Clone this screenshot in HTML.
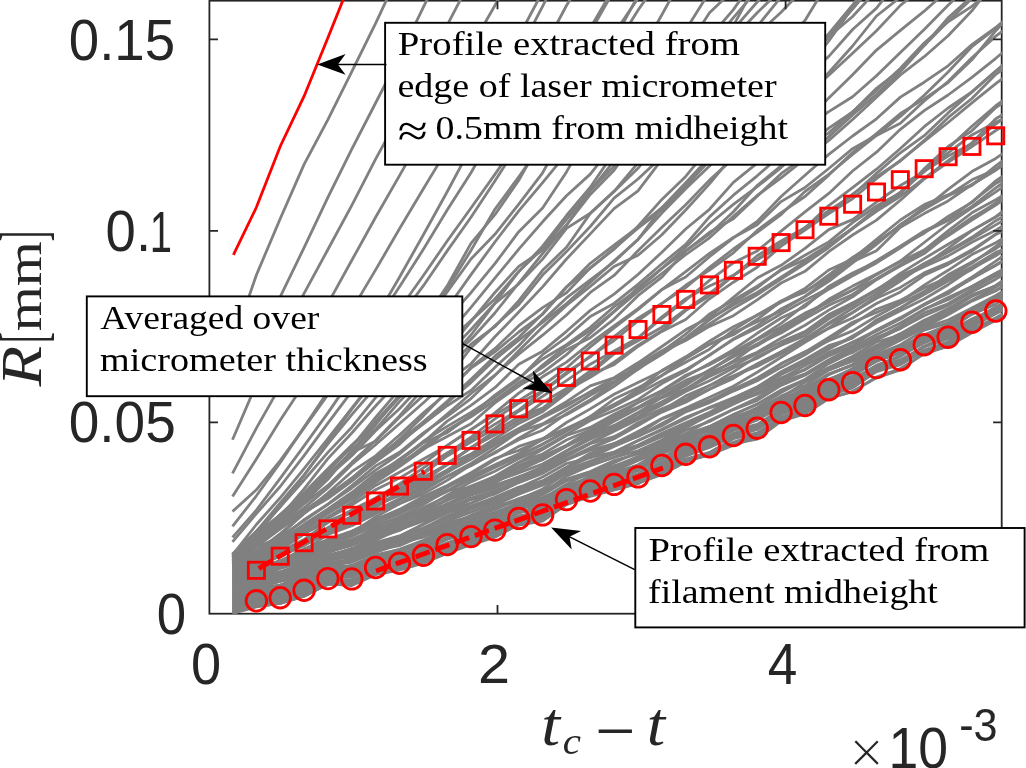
<!DOCTYPE html>
<html><head><meta charset="utf-8"><title>R vs tc-t</title>
<style>
html,body{margin:0;padding:0;background:#fff;width:1026px;height:768px;overflow:hidden}
svg{display:block}
.tk{font-family:"Liberation Sans",Arial,sans-serif;font-size:56px;fill:#262626}
.tx{font-family:"Liberation Serif","Times New Roman",serif;font-size:34px;fill:#000}
</style></head>
<body>
<svg width="1026" height="768" viewBox="0 0 1026 768">
<defs><clipPath id="ax"><rect x="208.5" y="-0.2" width="794.1" height="614.8"/></clipPath></defs>
<rect width="1026" height="768" fill="#fff"/>
<!-- axes box -->
<rect x="209.4" y="0.7" width="792.3" height="613" fill="none" stroke="#262626" stroke-width="1.8"/>
<!-- gray profiles -->
<g clip-path="url(#ax)" fill="none" stroke="#808080" stroke-width="2.8" stroke-linejoin="round">
<path d="M232.5 344.0 L256.4 275.0 L280.2 218.7 L304.1 164.4 L327.9 119.7 L351.8 71.7 L375.6 23.4 L399.5 -27.7"/>
<path d="M232.5 389.0 L256.4 343.9 L280.2 296.8 L304.1 247.6 L327.9 197.3 L351.8 149.1 L375.6 103.0 L399.5 56.3 L423.4 7.1 L447.2 -40.7"/>
<path d="M232.5 439.8 L256.4 384.1 L280.2 339.5 L304.1 293.4 L327.9 249.5 L351.8 205.4 L375.6 159.2 L399.5 115.3 L423.4 69.8 L447.2 25.1 L471.0 -20.5"/>
<path d="M232.5 473.4 L256.4 428.1 L280.2 386.1 L304.1 344.8 L327.9 303.6 L351.8 260.3 L375.6 217.3 L399.5 175.6 L423.4 133.5 L447.2 91.3 L471.0 47.3 L494.9 5.5 L518.8 -38.0"/>
<path d="M232.5 496.4 L256.4 458.9 L280.2 420.3 L304.1 383.9 L327.9 345.6 L351.8 309.9 L375.6 269.9 L399.5 228.8 L423.4 188.8 L447.2 149.4 L471.0 109.1 L494.9 73.1 L518.8 36.5 L542.6 -8.3"/>
<path d="M232.5 511.5 L256.4 489.8 L280.2 460.6 L304.1 427.9 L327.9 394.7 L351.8 356.3 L375.6 318.2 L399.5 277.2 L423.4 234.7 L447.2 191.7 L471.0 147.2 L494.9 100.4 L518.8 51.8 L542.6 6.4 L566.5 -41.4"/>
<path d="M232.5 526.4 L256.4 495.8 L280.2 462.7 L304.1 427.1 L327.9 391.6 L351.8 358.4 L375.6 322.8 L399.5 286.8 L423.4 249.3 L447.2 210.1 L471.0 172.7 L494.9 130.7 L518.8 89.3 L542.6 50.3 L566.5 5.5 L590.3 -33.6"/>
<path d="M232.5 537.4 L256.4 510.1 L280.2 478.4 L304.1 445.8 L327.9 412.9 L351.8 378.1 L375.6 343.0 L399.5 309.2 L423.4 275.5 L447.2 241.0 L471.0 208.0 L494.9 174.4 L518.8 139.8 L542.6 101.8 L566.5 65.4 L590.3 28.0 L614.1 -12.8"/>
<path d="M232.5 541.8 L256.4 513.6 L280.2 486.5 L304.1 455.7 L327.9 423.2 L351.8 391.3 L375.6 353.5 L399.5 317.9 L423.4 285.7 L447.2 250.9 L471.0 217.2 L494.9 181.1 L518.8 143.7 L542.6 108.7 L566.5 70.6 L590.3 32.0 L614.1 -9.7"/>
<path d="M232.5 554.0 L256.4 531.4 L280.2 502.9 L304.1 474.8 L327.9 443.9 L351.8 414.7 L375.6 387.0 L399.5 355.0 L423.4 323.9 L447.2 291.8 L471.0 259.0 L494.9 234.3 L518.8 204.1 L542.6 172.8 L566.5 130.1 L590.3 84.3 L614.1 48.5 L638.0 10.2 L661.9 -24.0"/>
<path d="M232.5 554.8 L256.4 524.5 L280.2 497.8 L304.1 468.7 L327.9 438.6 L351.8 408.1 L375.6 377.8 L399.5 353.3 L423.4 320.6 L447.2 289.1 L471.0 250.4 L494.9 209.3 L518.8 176.8 L542.6 143.1 L566.5 108.4 L590.3 74.1 L614.1 39.8 L638.0 -4.2"/>
<path d="M232.5 554.9 L256.4 534.6 L280.2 506.7 L304.1 475.5 L327.9 442.0 L351.8 409.2 L375.6 378.5 L399.5 349.4 L423.4 321.2 L447.2 285.9 L471.0 243.4 L494.9 214.7 L518.8 180.3 L542.6 137.9 L566.5 101.8 L590.3 64.4 L614.1 33.5 L638.0 -1.7 L661.9 -31.5"/>
<path d="M232.5 555.7 L256.4 531.3 L280.2 506.9 L304.1 480.0 L327.9 452.4 L351.8 427.2 L375.6 397.6 L399.5 365.9 L423.4 338.6 L447.2 308.3 L471.0 274.6 L494.9 242.0 L518.8 210.8 L542.6 182.7 L566.5 153.6 L590.3 120.0 L614.1 87.4 L638.0 56.7 L661.9 14.8 L685.7 -28.7"/>
<path d="M232.5 556.6 L256.4 536.4 L280.2 517.0 L304.1 488.9 L327.9 458.6 L351.8 433.0 L375.6 406.0 L399.5 380.3 L423.4 348.3 L447.2 319.0 L471.0 292.7 L494.9 263.7 L518.8 231.7 L542.6 208.1 L566.5 171.9 L590.3 130.3 L614.1 106.4 L638.0 75.8 L661.9 48.6 L685.7 30.1 L709.5 -8.1"/>
<path d="M232.5 556.8 L256.4 539.5 L280.2 517.6 L304.1 495.9 L327.9 471.5 L351.8 447.0 L375.6 417.5 L399.5 389.4 L423.4 360.9 L447.2 335.2 L471.0 307.3 L494.9 278.2 L518.8 249.2 L542.6 221.8 L566.5 195.8 L590.3 174.1 L614.1 143.9 L638.0 108.5 L661.9 86.6 L685.7 49.7 L709.5 12.8 L733.4 -10.0"/>
<path d="M232.5 557.3 L256.4 533.7 L280.2 514.8 L304.1 495.0 L327.9 474.5 L351.8 452.6 L375.6 425.0 L399.5 394.9 L423.4 369.7 L447.2 342.0 L471.0 320.6 L494.9 299.0 L518.8 271.5 L542.6 248.4 L566.5 219.5 L590.3 190.7 L614.1 160.8 L638.0 127.5 L661.9 106.3 L685.7 78.7 L709.5 47.1 L733.4 17.7 L757.2 -9.9"/>
<path d="M232.5 558.0 L256.4 539.0 L280.2 514.5 L304.1 492.7 L327.9 468.7 L351.8 445.0 L375.6 423.2 L399.5 397.2 L423.4 376.5 L447.2 354.3 L471.0 329.5 L494.9 303.2 L518.8 271.4 L542.6 246.2 L566.5 215.5 L590.3 187.2 L614.1 152.4 L638.0 123.4 L661.9 99.1 L685.7 62.3 L709.5 37.5 L733.4 9.6 L757.2 -24.0"/>
<path d="M232.5 558.4 L256.4 542.3 L280.2 523.3 L304.1 502.8 L327.9 478.7 L351.8 451.5 L375.6 421.5 L399.5 395.4 L423.4 370.8 L447.2 350.0 L471.0 321.5 L494.9 292.5 L518.8 266.4 L542.6 250.2 L566.5 225.0 L590.3 194.4 L614.1 170.3 L638.0 135.9 L661.9 111.5 L685.7 82.5 L709.5 51.2 L733.4 25.7 L757.2 -18.1"/>
<path d="M232.5 558.8 L256.4 539.7 L280.2 518.0 L304.1 498.0 L327.9 475.1 L351.8 452.5 L375.6 441.3 L399.5 417.3 L423.4 395.4 L447.2 378.9 L471.0 347.7 L494.9 325.9 L518.8 304.6 L542.6 275.1 L566.5 251.6 L590.3 226.5 L614.1 198.2 L638.0 179.0 L661.9 156.7 L685.7 126.1 L709.5 97.6 L733.4 66.0 L757.2 34.2 L781.1 12.3 L805.0 -12.8"/>
<path d="M232.5 560.4 L256.4 542.2 L280.2 523.7 L304.1 503.9 L327.9 485.4 L351.8 462.4 L375.6 440.5 L399.5 415.9 L423.4 388.3 L447.2 369.2 L471.0 344.2 L494.9 326.7 L518.8 300.7 L542.6 270.3 L566.5 247.2 L590.3 213.4 L614.1 191.4 L638.0 168.3 L661.9 137.6 L685.7 110.9 L709.5 84.0 L733.4 56.9 L757.2 26.4 L781.1 -3.1 L805.0 -32.5"/>
<path d="M232.5 560.5 L256.4 540.8 L280.2 519.4 L304.1 501.2 L327.9 479.3 L351.8 450.4 L375.6 429.3 L399.5 401.6 L423.4 376.8 L447.2 360.7 L471.0 339.5 L494.9 313.0 L518.8 283.0 L542.6 253.5 L566.5 225.3 L590.3 190.6 L614.1 166.2 L638.0 140.4 L661.9 109.2 L685.7 80.8 L709.5 48.5 L733.4 29.3 L757.2 2.0 L781.1 -25.7"/>
<path d="M232.5 561.1 L256.4 543.0 L280.2 520.9 L304.1 497.9 L327.9 476.8 L351.8 455.7 L375.6 430.8 L399.5 408.8 L423.4 383.0 L447.2 362.2 L471.0 335.0 L494.9 303.5 L518.8 283.9 L542.6 259.1 L566.5 228.4 L590.3 213.3 L614.1 191.3 L638.0 162.8 L661.9 132.9 L685.7 96.0 L709.5 64.8 L733.4 37.8 L757.2 12.7 L781.1 -10.5"/>
<path d="M232.5 561.4 L256.4 546.1 L280.2 528.8 L304.1 512.7 L327.9 493.1 L351.8 471.7 L375.6 455.9 L399.5 435.0 L423.4 412.9 L447.2 392.8 L471.0 367.2 L494.9 348.7 L518.8 325.7 L542.6 307.6 L566.5 292.8 L590.3 267.8 L614.1 249.2 L638.0 226.3 L661.9 199.4 L685.7 176.4 L709.5 147.4 L733.4 130.1 L757.2 111.4 L781.1 88.8 L805.0 61.8 L828.8 33.7 L852.6 5.0 L876.5 -27.1"/>
<path d="M232.5 561.8 L256.4 545.7 L280.2 525.5 L304.1 507.8 L327.9 488.0 L351.8 464.4 L375.6 444.6 L399.5 423.7 L423.4 402.7 L447.2 381.0 L471.0 363.8 L494.9 336.7 L518.8 312.1 L542.6 286.9 L566.5 259.0 L590.3 233.9 L614.1 208.6 L638.0 190.8 L661.9 159.3 L685.7 137.2 L709.5 107.9 L733.4 83.4 L757.2 67.8 L781.1 43.4 L805.0 20.5 L828.8 -18.6"/>
<path d="M232.5 563.1 L256.4 546.9 L280.2 528.6 L304.1 512.4 L327.9 498.5 L351.8 481.2 L375.6 461.4 L399.5 438.9 L423.4 415.9 L447.2 391.2 L471.0 368.2 L494.9 351.8 L518.8 332.0 L542.6 314.4 L566.5 287.3 L590.3 263.3 L614.1 245.2 L638.0 227.0 L661.9 207.6 L685.7 187.7 L709.5 157.7 L733.4 132.9 L757.2 110.8 L781.1 86.6 L805.0 68.1 L828.8 35.0 L852.6 9.0 L876.5 -19.6"/>
<path d="M232.5 563.9 L256.4 544.0 L280.2 527.7 L304.1 510.4 L327.9 494.5 L351.8 480.1 L375.6 458.0 L399.5 442.6 L423.4 424.0 L447.2 405.7 L471.0 390.4 L494.9 367.4 L518.8 345.7 L542.6 320.4 L566.5 297.9 L590.3 279.9 L614.1 261.9 L638.0 239.2 L661.9 213.0 L685.7 188.7 L709.5 166.0 L733.4 140.5 L757.2 116.9 L781.1 96.2 L805.0 77.0 L828.8 56.4 L852.6 29.5 L876.5 8.1 L900.4 -22.1"/>
<path d="M232.5 564.3 L256.4 552.1 L280.2 533.6 L304.1 513.6 L327.9 495.7 L351.8 478.0 L375.6 457.7 L399.5 440.2 L423.4 422.0 L447.2 402.7 L471.0 382.6 L494.9 359.6 L518.8 340.1 L542.6 322.3 L566.5 303.6 L590.3 282.4 L614.1 260.9 L638.0 239.7 L661.9 207.7 L685.7 182.6 L709.5 157.2 L733.4 131.6 L757.2 113.7 L781.1 85.7 L805.0 63.3 L828.8 36.7 L852.6 16.5 L876.5 -9.4"/>
<path d="M232.5 564.9 L256.4 550.7 L280.2 535.6 L304.1 512.9 L327.9 495.8 L351.8 479.9 L375.6 461.9 L399.5 444.3 L423.4 421.7 L447.2 401.3 L471.0 379.2 L494.9 356.2 L518.8 337.3 L542.6 313.7 L566.5 286.8 L590.3 268.2 L614.1 248.4 L638.0 228.2 L661.9 209.9 L685.7 185.7 L709.5 160.9 L733.4 142.2 L757.2 122.6 L781.1 98.8 L805.0 70.8 L828.8 40.9 L852.6 7.8 L876.5 -17.7"/>
<path d="M232.5 564.9 L256.4 547.5 L280.2 536.9 L304.1 520.5 L327.9 504.4 L351.8 488.0 L375.6 470.1 L399.5 454.0 L423.4 434.2 L447.2 414.1 L471.0 393.5 L494.9 375.2 L518.8 354.2 L542.6 335.2 L566.5 315.0 L590.3 292.4 L614.1 275.4 L638.0 250.8 L661.9 227.3 L685.7 204.7 L709.5 180.1 L733.4 158.4 L757.2 139.0 L781.1 115.5 L805.0 95.9 L828.8 75.3 L852.6 53.2 L876.5 30.8 L900.4 5.4 L924.2 -13.9"/>
<path d="M232.5 566.6 L256.4 553.5 L280.2 538.8 L304.1 519.6 L327.9 504.2 L351.8 485.7 L375.6 465.9 L399.5 452.3 L423.4 432.9 L447.2 416.3 L471.0 398.6 L494.9 375.4 L518.8 350.8 L542.6 327.1 L566.5 305.4 L590.3 286.4 L614.1 266.5 L638.0 255.3 L661.9 234.7 L685.7 210.0 L709.5 183.9 L733.4 155.0 L757.2 132.9 L781.1 114.1 L805.0 97.8 L828.8 72.5 L852.6 46.0 L876.5 16.0 L900.4 -2.9 L924.2 -26.5"/>
<path d="M232.5 566.9 L256.4 554.2 L280.2 540.5 L304.1 524.3 L327.9 509.0 L351.8 492.5 L375.6 473.4 L399.5 460.7 L423.4 441.3 L447.2 426.4 L471.0 412.5 L494.9 397.0 L518.8 379.2 L542.6 354.6 L566.5 337.4 L590.3 316.5 L614.1 303.4 L638.0 284.3 L661.9 263.8 L685.7 244.4 L709.5 216.9 L733.4 195.2 L757.2 175.8 L781.1 154.8 L805.0 128.3 L828.8 111.6 L852.6 96.8 L876.5 75.7 L900.4 52.6 L924.2 29.5 L948.1 5.2 L971.9 -17.7"/>
<path d="M232.5 567.7 L256.4 557.2 L280.2 543.5 L304.1 529.2 L327.9 510.9 L351.8 496.4 L375.6 476.1 L399.5 459.2 L423.4 442.2 L447.2 421.1 L471.0 405.4 L494.9 387.7 L518.8 364.3 L542.6 351.2 L566.5 331.3 L590.3 310.4 L614.1 294.2 L638.0 274.5 L661.9 252.2 L685.7 229.0 L709.5 209.3 L733.4 182.4 L757.2 163.2 L781.1 151.6 L805.0 123.9 L828.8 97.9 L852.6 74.7 L876.5 50.1 L900.4 30.3 L924.2 11.2 L948.1 -10.1"/>
<path d="M232.5 567.6 L256.4 556.7 L280.2 543.1 L304.1 527.1 L327.9 510.2 L351.8 493.6 L375.6 477.4 L399.5 460.6 L423.4 442.6 L447.2 432.6 L471.0 415.1 L494.9 395.2 L518.8 378.0 L542.6 359.0 L566.5 344.7 L590.3 327.3 L614.1 306.6 L638.0 289.5 L661.9 268.4 L685.7 250.8 L709.5 234.0 L733.4 211.8 L757.2 185.5 L781.1 165.8 L805.0 148.0 L828.8 128.2 L852.6 112.0 L876.5 88.3 L900.4 69.8 L924.2 45.5 L948.1 17.8 L971.9 -3.6 L995.8 -29.0"/>
<path d="M232.5 568.3 L256.4 556.1 L280.2 544.0 L304.1 531.1 L327.9 513.2 L351.8 499.3 L375.6 482.3 L399.5 466.6 L423.4 449.7 L447.2 430.3 L471.0 415.7 L494.9 400.8 L518.8 385.9 L542.6 372.6 L566.5 354.6 L590.3 333.2 L614.1 311.8 L638.0 291.7 L661.9 273.5 L685.7 254.7 L709.5 237.8 L733.4 216.3 L757.2 195.5 L781.1 177.8 L805.0 158.8 L828.8 140.4 L852.6 119.5 L876.5 97.2 L900.4 75.0 L924.2 56.7 L948.1 35.8 L971.9 10.8 L995.8 -20.0"/>
<path d="M232.5 568.7 L256.4 556.4 L280.2 543.0 L304.1 527.2 L327.9 512.6 L351.8 496.3 L375.6 479.5 L399.5 465.2 L423.4 446.7 L447.2 430.5 L471.0 416.8 L494.9 400.4 L518.8 382.6 L542.6 367.4 L566.5 349.7 L590.3 337.7 L614.1 319.1 L638.0 295.7 L661.9 277.1 L685.7 251.0 L709.5 232.3 L733.4 218.8 L757.2 196.2 L781.1 173.7 L805.0 156.7 L828.8 136.6 L852.6 114.9 L876.5 94.3 L900.4 71.8 L924.2 45.4 L948.1 21.3 L971.9 -1.5 L995.8 -22.1"/>
<path d="M232.5 569.3 L256.4 556.2 L280.2 544.4 L304.1 528.8 L327.9 513.5 L351.8 497.1 L375.6 478.4 L399.5 463.1 L423.4 448.9 L447.2 436.4 L471.0 423.7 L494.9 402.9 L518.8 386.2 L542.6 365.1 L566.5 346.0 L590.3 330.4 L614.1 311.4 L638.0 287.3 L661.9 268.4 L685.7 247.3 L709.5 224.0 L733.4 204.3 L757.2 186.7 L781.1 167.6 L805.0 145.2 L828.8 132.9 L852.6 111.8 L876.5 90.5 L900.4 68.2 L924.2 43.0 L948.1 21.7 L971.9 6.4 L995.8 -14.0"/>
<path d="M232.5 570.1 L256.4 557.5 L280.2 547.7 L304.1 533.9 L327.9 516.9 L351.8 502.4 L375.6 485.4 L399.5 472.2 L423.4 459.0 L447.2 445.6 L471.0 429.8 L494.9 412.9 L518.8 393.1 L542.6 376.8 L566.5 362.1 L590.3 343.1 L614.1 325.9 L638.0 308.7 L661.9 289.5 L685.7 277.0 L709.5 256.7 L733.4 237.8 L757.2 221.5 L781.1 196.5 L805.0 175.2 L828.8 154.4 L852.6 136.0 L876.5 118.8 L900.4 97.1 L924.2 82.2 L948.1 65.8 L971.9 44.6 L995.8 27.5 L1019.6 7.0"/>
<path d="M232.5 570.5 L256.4 560.5 L280.2 549.6 L304.1 533.8 L327.9 518.2 L351.8 505.1 L375.6 489.7 L399.5 478.1 L423.4 463.7 L447.2 445.3 L471.0 429.4 L494.9 414.7 L518.8 400.6 L542.6 385.7 L566.5 368.0 L590.3 346.9 L614.1 327.8 L638.0 309.7 L661.9 289.6 L685.7 271.7 L709.5 253.4 L733.4 237.5 L757.2 224.7 L781.1 201.6 L805.0 187.5 L828.8 168.5 L852.6 148.7 L876.5 135.2 L900.4 116.4 L924.2 95.2 L948.1 72.0 L971.9 46.7 L995.8 28.5 L1019.6 7.0"/>
<path d="M232.5 570.7 L256.4 558.6 L280.2 549.7 L304.1 534.1 L327.9 520.7 L351.8 511.9 L375.6 500.4 L399.5 490.4 L423.4 473.9 L447.2 456.0 L471.0 442.0 L494.9 428.5 L518.8 411.2 L542.6 396.4 L566.5 380.6 L590.3 364.2 L614.1 351.1 L638.0 338.0 L661.9 318.5 L685.7 300.3 L709.5 280.4 L733.4 262.8 L757.2 250.9 L781.1 231.2 L805.0 211.9 L828.8 193.4 L852.6 171.0 L876.5 152.2 L900.4 129.3 L924.2 110.7 L948.1 95.0 L971.9 77.3 L995.8 58.3 L1019.6 38.3"/>
<path d="M232.5 572.1 L256.4 557.1 L280.2 546.2 L304.1 533.1 L327.9 521.4 L351.8 513.0 L375.6 499.8 L399.5 485.9 L423.4 472.5 L447.2 453.6 L471.0 437.1 L494.9 418.8 L518.8 403.2 L542.6 391.0 L566.5 372.3 L590.3 356.9 L614.1 336.7 L638.0 318.1 L661.9 303.5 L685.7 285.3 L709.5 270.0 L733.4 252.8 L757.2 230.4 L781.1 212.6 L805.0 196.5 L828.8 175.1 L852.6 152.5 L876.5 133.5 L900.4 113.5 L924.2 98.9 L948.1 82.6 L971.9 59.8 L995.8 30.7 L1019.6 4.2"/>
<path d="M232.5 572.4 L256.4 562.9 L280.2 551.5 L304.1 539.4 L327.9 522.5 L351.8 509.9 L375.6 497.9 L399.5 484.0 L423.4 467.8 L447.2 453.0 L471.0 439.7 L494.9 424.2 L518.8 409.9 L542.6 391.7 L566.5 373.8 L590.3 356.2 L614.1 340.5 L638.0 320.9 L661.9 303.4 L685.7 287.7 L709.5 267.4 L733.4 249.0 L757.2 232.4 L781.1 214.6 L805.0 191.5 L828.8 174.3 L852.6 154.4 L876.5 135.5 L900.4 123.3 L924.2 101.0 L948.1 81.6 L971.9 57.7 L995.8 36.1 L1019.6 18.4"/>
<path d="M232.5 573.5 L256.4 564.1 L280.2 554.9 L304.1 543.4 L327.9 532.5 L351.8 520.6 L375.6 507.9 L399.5 491.4 L423.4 478.4 L447.2 464.1 L471.0 447.6 L494.9 431.2 L518.8 416.8 L542.6 408.1 L566.5 389.8 L590.3 374.4 L614.1 364.7 L638.0 346.5 L661.9 331.4 L685.7 319.5 L709.5 298.8 L733.4 282.2 L757.2 267.2 L781.1 246.2 L805.0 230.2 L828.8 213.6 L852.6 198.8 L876.5 178.7 L900.4 160.4 L924.2 141.4 L948.1 122.5 L971.9 102.8 L995.8 83.6 L1019.6 66.2"/>
<path d="M232.5 574.3 L256.4 566.8 L280.2 554.8 L304.1 541.3 L327.9 529.2 L351.8 517.9 L375.6 503.4 L399.5 495.0 L423.4 480.0 L447.2 464.8 L471.0 453.9 L494.9 438.7 L518.8 423.4 L542.6 411.7 L566.5 393.4 L590.3 373.5 L614.1 354.0 L638.0 340.7 L661.9 327.2 L685.7 309.4 L709.5 293.3 L733.4 275.4 L757.2 259.8 L781.1 245.9 L805.0 227.7 L828.8 213.4 L852.6 194.1 L876.5 176.6 L900.4 161.0 L924.2 140.4 L948.1 117.7 L971.9 98.5 L995.8 74.3 L1019.6 57.9"/>
<path d="M232.5 574.3 L256.4 560.3 L280.2 551.8 L304.1 542.2 L327.9 527.6 L351.8 516.4 L375.6 502.6 L399.5 488.5 L423.4 476.9 L447.2 464.7 L471.0 447.4 L494.9 434.7 L518.8 419.8 L542.6 402.4 L566.5 388.4 L590.3 370.9 L614.1 352.1 L638.0 337.7 L661.9 316.8 L685.7 298.7 L709.5 286.0 L733.4 275.3 L757.2 259.4 L781.1 242.7 L805.0 228.1 L828.8 205.6 L852.6 187.7 L876.5 169.2 L900.4 148.5 L924.2 126.7 L948.1 108.0 L971.9 92.0 L995.8 71.0 L1019.6 49.9"/>
<path d="M232.5 575.2 L256.4 565.5 L280.2 554.4 L304.1 544.9 L327.9 530.7 L351.8 520.7 L375.6 506.3 L399.5 494.6 L423.4 482.4 L447.2 463.5 L471.0 447.8 L494.9 434.8 L518.8 420.5 L542.6 409.1 L566.5 390.6 L590.3 377.2 L614.1 362.2 L638.0 345.2 L661.9 330.6 L685.7 310.6 L709.5 295.7 L733.4 275.7 L757.2 255.7 L781.1 241.0 L805.0 227.6 L828.8 210.6 L852.6 195.2 L876.5 173.4 L900.4 152.8 L924.2 135.7 L948.1 112.9 L971.9 91.9 L995.8 71.1 L1019.6 56.0"/>
<path d="M232.5 575.8 L256.4 567.5 L280.2 555.0 L304.1 542.4 L327.9 530.7 L351.8 518.1 L375.6 504.8 L399.5 495.6 L423.4 482.8 L447.2 470.0 L471.0 454.8 L494.9 441.5 L518.8 428.4 L542.6 415.9 L566.5 401.6 L590.3 385.8 L614.1 377.8 L638.0 362.8 L661.9 346.5 L685.7 329.8 L709.5 317.2 L733.4 297.3 L757.2 278.0 L781.1 265.3 L805.0 248.4 L828.8 229.6 L852.6 219.6 L876.5 202.2 L900.4 185.5 L924.2 171.7 L948.1 148.4 L971.9 126.3 L995.8 105.7 L1019.6 88.5"/>
<path d="M232.5 576.4 L256.4 566.4 L280.2 555.9 L304.1 545.5 L327.9 532.3 L351.8 523.4 L375.6 512.1 L399.5 499.3 L423.4 487.3 L447.2 471.9 L471.0 459.2 L494.9 445.1 L518.8 431.0 L542.6 416.5 L566.5 404.3 L590.3 392.4 L614.1 381.6 L638.0 369.3 L661.9 351.7 L685.7 334.1 L709.5 314.0 L733.4 300.2 L757.2 286.1 L781.1 270.3 L805.0 259.6 L828.8 244.6 L852.6 228.4 L876.5 208.7 L900.4 193.7 L924.2 168.7 L948.1 146.4 L971.9 130.8 L995.8 107.5 L1019.6 92.1"/>
<path d="M232.5 577.0 L256.4 563.4 L280.2 556.3 L304.1 545.0 L327.9 533.0 L351.8 523.2 L375.6 510.6 L399.5 498.8 L423.4 485.2 L447.2 472.6 L471.0 456.2 L494.9 443.9 L518.8 431.9 L542.6 417.8 L566.5 406.1 L590.3 391.7 L614.1 378.4 L638.0 368.8 L661.9 354.3 L685.7 338.4 L709.5 319.8 L733.4 302.8 L757.2 287.8 L781.1 269.3 L805.0 255.2 L828.8 241.9 L852.6 222.6 L876.5 206.0 L900.4 192.8 L924.2 171.4 L948.1 156.0 L971.9 143.8 L995.8 124.0 L1019.6 106.5"/>
<path d="M232.5 577.2 L256.4 567.5 L280.2 555.6 L304.1 543.8 L327.9 531.3 L351.8 522.4 L375.6 513.1 L399.5 503.6 L423.4 491.0 L447.2 476.2 L471.0 463.5 L494.9 448.2 L518.8 431.6 L542.6 423.9 L566.5 409.7 L590.3 395.3 L614.1 382.6 L638.0 365.0 L661.9 350.7 L685.7 339.0 L709.5 324.0 L733.4 308.4 L757.2 294.8 L781.1 279.1 L805.0 263.8 L828.8 247.5 L852.6 228.7 L876.5 210.7 L900.4 192.0 L924.2 170.7 L948.1 152.8 L971.9 134.9 L995.8 122.3 L1019.6 110.9"/>
<path d="M232.5 578.0 L256.4 569.9 L280.2 560.9 L304.1 548.7 L327.9 539.5 L351.8 532.9 L375.6 516.9 L399.5 503.8 L423.4 493.9 L447.2 480.3 L471.0 464.9 L494.9 453.0 L518.8 438.2 L542.6 424.7 L566.5 414.8 L590.3 401.4 L614.1 386.4 L638.0 369.0 L661.9 351.8 L685.7 338.1 L709.5 319.0 L733.4 305.1 L757.2 292.4 L781.1 277.2 L805.0 261.8 L828.8 246.0 L852.6 228.1 L876.5 211.3 L900.4 196.3 L924.2 178.3 L948.1 160.5 L971.9 142.8 L995.8 118.7 L1019.6 104.2"/>
<path d="M232.5 579.2 L256.4 568.7 L280.2 560.7 L304.1 550.3 L327.9 534.4 L351.8 525.8 L375.6 513.9 L399.5 500.6 L423.4 488.4 L447.2 476.3 L471.0 465.8 L494.9 452.3 L518.8 439.8 L542.6 430.3 L566.5 413.7 L590.3 399.8 L614.1 383.1 L638.0 366.1 L661.9 352.1 L685.7 340.5 L709.5 326.4 L733.4 315.7 L757.2 299.8 L781.1 283.0 L805.0 271.3 L828.8 251.7 L852.6 235.0 L876.5 220.1 L900.4 200.2 L924.2 179.0 L948.1 162.3 L971.9 146.7 L995.8 130.5 L1019.6 115.8"/>
<path d="M232.5 578.9 L256.4 572.6 L280.2 566.3 L304.1 554.4 L327.9 542.3 L351.8 531.4 L375.6 519.3 L399.5 510.2 L423.4 498.0 L447.2 486.4 L471.0 476.0 L494.9 464.8 L518.8 453.7 L542.6 439.2 L566.5 422.5 L590.3 408.9 L614.1 394.2 L638.0 382.4 L661.9 371.1 L685.7 358.2 L709.5 344.3 L733.4 334.7 L757.2 319.3 L781.1 301.3 L805.0 288.4 L828.8 270.0 L852.6 259.1 L876.5 243.5 L900.4 225.2 L924.2 208.9 L948.1 189.3 L971.9 171.6 L995.8 158.4 L1019.6 141.7"/>
<path d="M232.5 580.3 L256.4 572.3 L280.2 564.8 L304.1 553.6 L327.9 543.4 L351.8 534.4 L375.6 519.7 L399.5 509.4 L423.4 496.4 L447.2 485.5 L471.0 472.8 L494.9 458.5 L518.8 450.4 L542.6 439.7 L566.5 429.1 L590.3 416.7 L614.1 399.1 L638.0 387.8 L661.9 375.4 L685.7 362.2 L709.5 349.2 L733.4 330.1 L757.2 315.0 L781.1 302.3 L805.0 291.3 L828.8 277.9 L852.6 258.9 L876.5 239.4 L900.4 220.0 L924.2 204.6 L948.1 194.8 L971.9 184.7 L995.8 169.5 L1019.6 149.7"/>
<path d="M232.5 580.6 L256.4 570.6 L280.2 561.6 L304.1 551.4 L327.9 540.5 L351.8 533.5 L375.6 523.0 L399.5 514.1 L423.4 501.6 L447.2 487.4 L471.0 474.0 L494.9 459.8 L518.8 446.4 L542.6 438.5 L566.5 428.2 L590.3 417.7 L614.1 405.9 L638.0 389.4 L661.9 370.5 L685.7 356.8 L709.5 341.2 L733.4 326.7 L757.2 315.2 L781.1 301.0 L805.0 292.1 L828.8 274.9 L852.6 257.5 L876.5 241.9 L900.4 225.6 L924.2 207.1 L948.1 195.7 L971.9 185.4 L995.8 165.8 L1019.6 148.3"/>
<path d="M232.5 581.3 L256.4 577.4 L280.2 568.0 L304.1 556.8 L327.9 539.6 L351.8 531.2 L375.6 520.1 L399.5 512.0 L423.4 502.7 L447.2 491.4 L471.0 479.3 L494.9 467.5 L518.8 456.4 L542.6 444.0 L566.5 431.1 L590.3 418.5 L614.1 406.2 L638.0 393.4 L661.9 380.8 L685.7 369.6 L709.5 355.4 L733.4 338.9 L757.2 325.6 L781.1 308.9 L805.0 296.4 L828.8 278.6 L852.6 261.7 L876.5 250.8 L900.4 227.3 L924.2 213.6 L948.1 200.9 L971.9 184.5 L995.8 170.2 L1019.6 153.0"/>
<path d="M232.5 582.0 L256.4 570.6 L280.2 564.4 L304.1 554.4 L327.9 539.6 L351.8 531.4 L375.6 520.7 L399.5 510.5 L423.4 500.5 L447.2 490.7 L471.0 477.1 L494.9 466.0 L518.8 455.4 L542.6 444.4 L566.5 431.1 L590.3 416.5 L614.1 404.2 L638.0 391.4 L661.9 375.5 L685.7 358.5 L709.5 344.3 L733.4 332.7 L757.2 321.8 L781.1 310.9 L805.0 296.6 L828.8 281.3 L852.6 262.8 L876.5 244.5 L900.4 224.5 L924.2 209.3 L948.1 195.5 L971.9 179.8 L995.8 169.6 L1019.6 153.5"/>
<path d="M232.5 582.3 L256.4 576.2 L280.2 567.0 L304.1 556.4 L327.9 544.6 L351.8 536.4 L375.6 525.2 L399.5 517.5 L423.4 509.8 L447.2 495.2 L471.0 481.9 L494.9 471.2 L518.8 458.6 L542.6 448.0 L566.5 434.4 L590.3 420.5 L614.1 410.5 L638.0 399.5 L661.9 383.6 L685.7 371.0 L709.5 354.9 L733.4 339.6 L757.2 328.1 L781.1 313.8 L805.0 300.4 L828.8 288.1 L852.6 274.2 L876.5 260.7 L900.4 246.1 L924.2 230.9 L948.1 219.5 L971.9 201.8 L995.8 183.5 L1019.6 169.8"/>
<path d="M232.5 583.4 L256.4 573.5 L280.2 567.0 L304.1 556.8 L327.9 546.1 L351.8 540.8 L375.6 530.1 L399.5 519.2 L423.4 507.5 L447.2 496.4 L471.0 486.1 L494.9 476.5 L518.8 465.4 L542.6 456.2 L566.5 445.2 L590.3 430.4 L614.1 416.2 L638.0 407.3 L661.9 393.4 L685.7 380.4 L709.5 371.2 L733.4 354.7 L757.2 339.9 L781.1 327.0 L805.0 313.1 L828.8 302.2 L852.6 290.2 L876.5 274.7 L900.4 261.0 L924.2 242.5 L948.1 224.0 L971.9 207.8 L995.8 191.8 L1019.6 174.8"/>
<path d="M232.5 584.0 L256.4 574.8 L280.2 563.5 L304.1 554.1 L327.9 546.5 L351.8 541.4 L375.6 526.7 L399.5 517.0 L423.4 504.5 L447.2 490.4 L471.0 487.7 L494.9 476.3 L518.8 462.3 L542.6 454.0 L566.5 440.0 L590.3 429.8 L614.1 417.6 L638.0 402.6 L661.9 390.8 L685.7 376.6 L709.5 363.4 L733.4 349.6 L757.2 333.3 L781.1 318.0 L805.0 306.7 L828.8 286.4 L852.6 272.9 L876.5 261.9 L900.4 246.3 L924.2 233.2 L948.1 216.4 L971.9 202.4 L995.8 180.9 L1019.6 164.4"/>
<path d="M232.5 584.0 L256.4 577.1 L280.2 567.6 L304.1 560.2 L327.9 549.3 L351.8 543.0 L375.6 531.1 L399.5 520.0 L423.4 513.4 L447.2 503.8 L471.0 494.5 L494.9 483.3 L518.8 467.8 L542.6 457.8 L566.5 445.7 L590.3 431.9 L614.1 419.8 L638.0 407.5 L661.9 397.6 L685.7 389.0 L709.5 374.8 L733.4 361.0 L757.2 344.2 L781.1 329.4 L805.0 316.0 L828.8 299.3 L852.6 286.1 L876.5 274.0 L900.4 261.6 L924.2 250.0 L948.1 230.8 L971.9 212.8 L995.8 199.7 L1019.6 185.4"/>
<path d="M232.5 585.1 L256.4 577.6 L280.2 567.8 L304.1 559.0 L327.9 546.9 L351.8 541.7 L375.6 528.6 L399.5 520.8 L423.4 511.8 L447.2 499.7 L471.0 491.9 L494.9 477.1 L518.8 462.4 L542.6 449.6 L566.5 435.5 L590.3 427.4 L614.1 414.2 L638.0 402.6 L661.9 390.7 L685.7 375.3 L709.5 364.8 L733.4 352.0 L757.2 338.8 L781.1 323.4 L805.0 304.7 L828.8 289.2 L852.6 275.8 L876.5 262.9 L900.4 247.9 L924.2 232.1 L948.1 220.6 L971.9 206.4 L995.8 187.8 L1019.6 170.8"/>
<path d="M232.5 585.7 L256.4 575.9 L280.2 566.6 L304.1 556.0 L327.9 545.8 L351.8 539.4 L375.6 529.5 L399.5 523.1 L423.4 513.0 L447.2 499.1 L471.0 488.4 L494.9 479.1 L518.8 470.8 L542.6 459.4 L566.5 445.8 L590.3 434.5 L614.1 425.4 L638.0 412.6 L661.9 397.4 L685.7 385.4 L709.5 370.1 L733.4 356.7 L757.2 345.8 L781.1 331.3 L805.0 316.4 L828.8 301.2 L852.6 290.1 L876.5 279.2 L900.4 266.0 L924.2 253.6 L948.1 234.7 L971.9 218.6 L995.8 202.9 L1019.6 180.8"/>
<path d="M232.5 585.9 L256.4 579.4 L280.2 572.3 L304.1 563.7 L327.9 552.6 L351.8 544.5 L375.6 533.0 L399.5 523.6 L423.4 510.9 L447.2 500.5 L471.0 489.4 L494.9 478.9 L518.8 467.3 L542.6 459.7 L566.5 446.2 L590.3 434.8 L614.1 421.4 L638.0 408.4 L661.9 396.5 L685.7 383.3 L709.5 369.9 L733.4 356.1 L757.2 344.1 L781.1 333.1 L805.0 318.8 L828.8 305.3 L852.6 294.5 L876.5 278.7 L900.4 264.8 L924.2 250.6 L948.1 235.9 L971.9 220.0 L995.8 205.1 L1019.6 187.2"/>
<path d="M232.5 587.5 L256.4 581.7 L280.2 575.4 L304.1 565.7 L327.9 555.4 L351.8 549.9 L375.6 538.4 L399.5 530.5 L423.4 517.8 L447.2 504.1 L471.0 492.1 L494.9 481.4 L518.8 472.9 L542.6 464.0 L566.5 450.6 L590.3 436.6 L614.1 427.8 L638.0 416.8 L661.9 402.3 L685.7 390.7 L709.5 372.9 L733.4 362.3 L757.2 352.2 L781.1 338.2 L805.0 325.3 L828.8 310.1 L852.6 296.8 L876.5 279.7 L900.4 265.1 L924.2 250.2 L948.1 234.2 L971.9 217.4 L995.8 203.9 L1019.6 188.6"/>
<path d="M232.5 587.0 L256.4 577.0 L280.2 571.7 L304.1 563.4 L327.9 551.5 L351.8 544.9 L375.6 534.8 L399.5 526.4 L423.4 516.1 L447.2 505.0 L471.0 495.1 L494.9 488.3 L518.8 477.3 L542.6 466.4 L566.5 451.3 L590.3 439.3 L614.1 427.7 L638.0 413.5 L661.9 401.8 L685.7 389.4 L709.5 376.5 L733.4 365.4 L757.2 353.4 L781.1 341.9 L805.0 331.6 L828.8 314.6 L852.6 303.1 L876.5 289.4 L900.4 275.3 L924.2 265.3 L948.1 248.4 L971.9 230.6 L995.8 217.1 L1019.6 201.7"/>
<path d="M232.5 588.3 L256.4 576.6 L280.2 568.4 L304.1 561.9 L327.9 551.9 L351.8 545.3 L375.6 534.9 L399.5 526.2 L423.4 515.5 L447.2 505.0 L471.0 493.8 L494.9 485.7 L518.8 477.0 L542.6 468.3 L566.5 454.3 L590.3 442.9 L614.1 429.0 L638.0 417.6 L661.9 405.0 L685.7 391.6 L709.5 380.7 L733.4 367.9 L757.2 358.3 L781.1 344.7 L805.0 332.5 L828.8 316.5 L852.6 303.0 L876.5 290.4 L900.4 273.4 L924.2 258.6 L948.1 244.2 L971.9 230.4 L995.8 216.6 L1019.6 198.5"/>
<path d="M232.5 588.6 L256.4 580.4 L280.2 573.9 L304.1 564.9 L327.9 555.2 L351.8 549.7 L375.6 540.2 L399.5 529.0 L423.4 518.0 L447.2 505.9 L471.0 494.5 L494.9 485.4 L518.8 476.9 L542.6 468.7 L566.5 456.1 L590.3 443.2 L614.1 431.3 L638.0 419.6 L661.9 408.7 L685.7 399.1 L709.5 385.6 L733.4 371.9 L757.2 356.4 L781.1 345.3 L805.0 335.6 L828.8 318.9 L852.6 305.2 L876.5 289.9 L900.4 277.6 L924.2 263.4 L948.1 251.1 L971.9 237.3 L995.8 220.7 L1019.6 207.4"/>
<path d="M232.5 589.5 L256.4 582.7 L280.2 575.4 L304.1 568.4 L327.9 556.1 L351.8 548.4 L375.6 536.4 L399.5 527.5 L423.4 518.9 L447.2 508.4 L471.0 498.1 L494.9 490.8 L518.8 480.8 L542.6 469.7 L566.5 456.3 L590.3 443.7 L614.1 436.6 L638.0 425.3 L661.9 412.1 L685.7 402.2 L709.5 389.2 L733.4 376.5 L757.2 363.9 L781.1 352.3 L805.0 340.0 L828.8 323.0 L852.6 308.3 L876.5 293.4 L900.4 278.1 L924.2 266.7 L948.1 255.9 L971.9 242.2 L995.8 230.3 L1019.6 215.6"/>
<path d="M232.5 589.7 L256.4 576.7 L280.2 573.8 L304.1 564.7 L327.9 555.5 L351.8 551.9 L375.6 539.4 L399.5 529.0 L423.4 520.6 L447.2 510.8 L471.0 503.0 L494.9 492.8 L518.8 479.1 L542.6 471.3 L566.5 459.2 L590.3 447.7 L614.1 437.4 L638.0 422.8 L661.9 411.3 L685.7 400.5 L709.5 389.3 L733.4 378.4 L757.2 364.1 L781.1 351.8 L805.0 338.5 L828.8 324.0 L852.6 312.7 L876.5 296.2 L900.4 281.0 L924.2 264.4 L948.1 252.3 L971.9 239.1 L995.8 224.9 L1019.6 210.8"/>
<path d="M232.5 589.9 L256.4 579.2 L280.2 577.0 L304.1 568.0 L327.9 556.0 L351.8 550.5 L375.6 537.3 L399.5 529.6 L423.4 520.9 L447.2 512.3 L471.0 503.3 L494.9 493.5 L518.8 478.9 L542.6 471.6 L566.5 460.0 L590.3 448.5 L614.1 438.8 L638.0 425.5 L661.9 410.8 L685.7 395.9 L709.5 385.5 L733.4 375.7 L757.2 366.4 L781.1 354.1 L805.0 340.7 L828.8 328.0 L852.6 312.5 L876.5 298.3 L900.4 287.4 L924.2 272.9 L948.1 262.9 L971.9 249.8 L995.8 234.2 L1019.6 216.4"/>
<path d="M232.5 591.0 L256.4 586.4 L280.2 578.8 L304.1 567.7 L327.9 559.6 L351.8 553.3 L375.6 543.5 L399.5 536.4 L423.4 523.9 L447.2 511.1 L471.0 499.6 L494.9 494.1 L518.8 482.6 L542.6 473.4 L566.5 460.0 L590.3 450.2 L614.1 443.7 L638.0 431.4 L661.9 418.6 L685.7 408.0 L709.5 397.2 L733.4 386.2 L757.2 372.3 L781.1 357.2 L805.0 342.2 L828.8 328.4 L852.6 318.0 L876.5 303.5 L900.4 291.9 L924.2 275.3 L948.1 264.4 L971.9 251.2 L995.8 234.4 L1019.6 222.8"/>
<path d="M232.5 591.9 L256.4 583.9 L280.2 577.7 L304.1 569.2 L327.9 559.7 L351.8 555.1 L375.6 544.6 L399.5 538.6 L423.4 528.4 L447.2 515.8 L471.0 507.7 L494.9 499.6 L518.8 488.5 L542.6 480.9 L566.5 467.3 L590.3 453.2 L614.1 443.6 L638.0 434.3 L661.9 418.9 L685.7 409.4 L709.5 400.4 L733.4 389.1 L757.2 379.4 L781.1 364.0 L805.0 352.1 L828.8 337.5 L852.6 322.2 L876.5 312.5 L900.4 302.0 L924.2 285.1 L948.1 270.3 L971.9 254.6 L995.8 242.7 L1019.6 228.1"/>
<path d="M232.5 592.4 L256.4 583.6 L280.2 576.5 L304.1 568.6 L327.9 558.4 L351.8 553.5 L375.6 542.5 L399.5 535.9 L423.4 524.5 L447.2 512.9 L471.0 506.1 L494.9 497.2 L518.8 487.1 L542.6 481.7 L566.5 468.5 L590.3 455.8 L614.1 445.0 L638.0 436.4 L661.9 423.6 L685.7 410.8 L709.5 401.4 L733.4 389.3 L757.2 377.9 L781.1 363.6 L805.0 351.8 L828.8 340.8 L852.6 330.9 L876.5 316.3 L900.4 303.5 L924.2 291.6 L948.1 274.8 L971.9 261.9 L995.8 248.7 L1019.6 231.7"/>
<path d="M232.5 592.8 L256.4 585.6 L280.2 580.0 L304.1 571.8 L327.9 560.3 L351.8 556.1 L375.6 546.2 L399.5 536.9 L423.4 527.9 L447.2 518.3 L471.0 508.1 L494.9 497.8 L518.8 487.7 L542.6 477.0 L566.5 463.5 L590.3 457.7 L614.1 446.5 L638.0 436.2 L661.9 425.8 L685.7 411.9 L709.5 402.7 L733.4 391.1 L757.2 380.7 L781.1 367.4 L805.0 354.8 L828.8 340.0 L852.6 324.2 L876.5 309.2 L900.4 300.3 L924.2 287.9 L948.1 277.5 L971.9 263.4 L995.8 246.5 L1019.6 226.3"/>
<path d="M232.5 593.6 L256.4 585.2 L280.2 580.8 L304.1 574.1 L327.9 564.3 L351.8 558.9 L375.6 548.5 L399.5 541.2 L423.4 531.7 L447.2 521.3 L471.0 512.1 L494.9 503.1 L518.8 492.7 L542.6 484.2 L566.5 472.3 L590.3 463.0 L614.1 452.5 L638.0 440.6 L661.9 429.3 L685.7 417.2 L709.5 408.0 L733.4 400.1 L757.2 390.0 L781.1 374.1 L805.0 361.9 L828.8 349.2 L852.6 335.9 L876.5 322.1 L900.4 308.3 L924.2 291.8 L948.1 278.9 L971.9 267.0 L995.8 252.4 L1019.6 243.5"/>
<path d="M232.5 594.2 L256.4 586.0 L280.2 581.3 L304.1 572.7 L327.9 562.9 L351.8 560.3 L375.6 547.8 L399.5 538.8 L423.4 529.1 L447.2 518.4 L471.0 509.0 L494.9 501.3 L518.8 488.1 L542.6 481.1 L566.5 467.7 L590.3 457.3 L614.1 452.0 L638.0 440.7 L661.9 430.0 L685.7 418.7 L709.5 407.3 L733.4 397.9 L757.2 386.9 L781.1 371.7 L805.0 359.5 L828.8 345.6 L852.6 338.0 L876.5 319.9 L900.4 307.8 L924.2 294.6 L948.1 281.0 L971.9 269.4 L995.8 253.5 L1019.6 240.5"/>
<path d="M232.5 594.6 L256.4 586.1 L280.2 581.0 L304.1 570.8 L327.9 559.9 L351.8 557.1 L375.6 547.4 L399.5 542.3 L423.4 532.6 L447.2 521.4 L471.0 509.1 L494.9 499.7 L518.8 490.7 L542.6 482.2 L566.5 469.9 L590.3 461.0 L614.1 452.3 L638.0 445.0 L661.9 433.3 L685.7 422.7 L709.5 412.4 L733.4 397.9 L757.2 386.9 L781.1 374.5 L805.0 363.0 L828.8 348.1 L852.6 337.6 L876.5 322.8 L900.4 310.8 L924.2 299.0 L948.1 284.7 L971.9 268.5 L995.8 255.7 L1019.6 240.3"/>
<path d="M232.5 595.5 L256.4 584.9 L280.2 580.0 L304.1 572.7 L327.9 564.9 L351.8 560.3 L375.6 549.3 L399.5 541.8 L423.4 533.0 L447.2 524.9 L471.0 518.1 L494.9 509.3 L518.8 499.5 L542.6 489.0 L566.5 473.1 L590.3 463.0 L614.1 454.2 L638.0 446.4 L661.9 434.4 L685.7 424.1 L709.5 414.9 L733.4 401.7 L757.2 393.4 L781.1 378.6 L805.0 365.4 L828.8 352.2 L852.6 342.8 L876.5 329.9 L900.4 317.6 L924.2 304.2 L948.1 291.5 L971.9 277.1 L995.8 261.1 L1019.6 244.3"/>
<path d="M232.5 595.8 L256.4 585.1 L280.2 579.1 L304.1 572.3 L327.9 562.5 L351.8 559.8 L375.6 550.6 L399.5 542.8 L423.4 537.1 L447.2 527.1 L471.0 515.4 L494.9 505.2 L518.8 494.2 L542.6 485.2 L566.5 473.7 L590.3 465.6 L614.1 457.2 L638.0 447.0 L661.9 436.7 L685.7 426.3 L709.5 415.6 L733.4 404.3 L757.2 393.1 L781.1 381.3 L805.0 369.2 L828.8 354.0 L852.6 342.0 L876.5 330.9 L900.4 319.0 L924.2 304.4 L948.1 293.8 L971.9 277.7 L995.8 265.4 L1019.6 250.9"/>
<path d="M232.5 595.7 L256.4 589.2 L280.2 580.6 L304.1 575.2 L327.9 564.7 L351.8 560.8 L375.6 551.3 L399.5 542.4 L423.4 533.4 L447.2 522.6 L471.0 517.5 L494.9 508.1 L518.8 500.2 L542.6 493.5 L566.5 476.2 L590.3 465.5 L614.1 457.3 L638.0 450.8 L661.9 440.0 L685.7 425.7 L709.5 413.6 L733.4 401.5 L757.2 389.8 L781.1 377.8 L805.0 369.9 L828.8 355.9 L852.6 345.6 L876.5 330.0 L900.4 318.4 L924.2 305.0 L948.1 292.5 L971.9 278.8 L995.8 265.0 L1019.6 250.4"/>
<path d="M232.5 597.2 L256.4 587.4 L280.2 581.5 L304.1 576.8 L327.9 565.2 L351.8 562.3 L375.6 552.3 L399.5 544.2 L423.4 535.6 L447.2 523.0 L471.0 516.7 L494.9 509.5 L518.8 498.5 L542.6 491.1 L566.5 479.1 L590.3 471.6 L614.1 460.6 L638.0 453.9 L661.9 443.5 L685.7 430.2 L709.5 421.5 L733.4 409.3 L757.2 398.0 L781.1 382.4 L805.0 373.9 L828.8 359.8 L852.6 347.6 L876.5 334.5 L900.4 323.0 L924.2 309.1 L948.1 299.7 L971.9 286.6 L995.8 273.5 L1019.6 261.6"/>
<path d="M232.5 597.6 L256.4 591.2 L280.2 585.2 L304.1 576.2 L327.9 566.5 L351.8 561.4 L375.6 550.0 L399.5 545.6 L423.4 535.2 L447.2 525.0 L471.0 515.6 L494.9 506.6 L518.8 499.1 L542.6 490.7 L566.5 480.4 L590.3 472.1 L614.1 462.7 L638.0 452.3 L661.9 441.9 L685.7 427.9 L709.5 414.8 L733.4 403.0 L757.2 394.3 L781.1 383.9 L805.0 374.7 L828.8 361.0 L852.6 352.5 L876.5 338.8 L900.4 325.9 L924.2 309.6 L948.1 297.6 L971.9 286.5 L995.8 273.2 L1019.6 260.5"/>
<path d="M232.5 597.9 L256.4 587.7 L280.2 585.1 L304.1 576.2 L327.9 566.4 L351.8 565.8 L375.6 555.8 L399.5 550.8 L423.4 541.1 L447.2 528.0 L471.0 519.2 L494.9 512.4 L518.8 502.8 L542.6 494.9 L566.5 480.8 L590.3 474.4 L614.1 466.4 L638.0 456.6 L661.9 445.1 L685.7 433.4 L709.5 420.5 L733.4 409.6 L757.2 400.4 L781.1 385.4 L805.0 375.3 L828.8 361.6 L852.6 350.1 L876.5 337.4 L900.4 328.6 L924.2 312.8 L948.1 303.8 L971.9 289.4 L995.8 276.0 L1019.6 263.8"/>
<path d="M232.5 599.2 L256.4 591.7 L280.2 585.3 L304.1 579.1 L327.9 569.3 L351.8 567.6 L375.6 557.0 L399.5 550.3 L423.4 542.6 L447.2 532.1 L471.0 523.6 L494.9 514.4 L518.8 502.0 L542.6 497.8 L566.5 487.8 L590.3 476.6 L614.1 466.7 L638.0 459.1 L661.9 447.4 L685.7 434.2 L709.5 426.7 L733.4 414.7 L757.2 404.1 L781.1 390.1 L805.0 379.5 L828.8 363.7 L852.6 351.8 L876.5 340.0 L900.4 328.3 L924.2 315.7 L948.1 305.4 L971.9 292.0 L995.8 279.2 L1019.6 263.7"/>
<path d="M232.5 599.2 L256.4 593.1 L280.2 589.1 L304.1 581.4 L327.9 569.9 L351.8 567.2 L375.6 555.8 L399.5 549.3 L423.4 540.2 L447.2 529.5 L471.0 520.3 L494.9 513.2 L518.8 504.6 L542.6 498.8 L566.5 484.3 L590.3 472.3 L614.1 465.6 L638.0 459.9 L661.9 448.2 L685.7 436.7 L709.5 426.4 L733.4 414.5 L757.2 404.3 L781.1 390.3 L805.0 380.5 L828.8 367.9 L852.6 358.3 L876.5 345.4 L900.4 333.6 L924.2 320.2 L948.1 311.3 L971.9 296.4 L995.8 285.4 L1019.6 268.8"/>
<path d="M232.5 600.6 L256.4 594.5 L280.2 590.0 L304.1 583.0 L327.9 569.9 L351.8 565.6 L375.6 554.8 L399.5 549.7 L423.4 541.7 L447.2 530.3 L471.0 522.7 L494.9 517.3 L518.8 503.7 L542.6 498.1 L566.5 486.0 L590.3 478.3 L614.1 471.1 L638.0 460.5 L661.9 451.1 L685.7 439.1 L709.5 428.0 L733.4 417.8 L757.2 410.0 L781.1 396.1 L805.0 385.9 L828.8 370.2 L852.6 360.4 L876.5 346.8 L900.4 336.6 L924.2 324.7 L948.1 313.6 L971.9 300.1 L995.8 287.2 L1019.6 271.2"/>
<path d="M232.5 600.9 L256.4 594.8 L280.2 590.2 L304.1 580.5 L327.9 569.9 L351.8 565.5 L375.6 556.6 L399.5 551.6 L423.4 541.5 L447.2 532.6 L471.0 526.0 L494.9 518.2 L518.8 506.7 L542.6 500.8 L566.5 486.3 L590.3 477.0 L614.1 467.5 L638.0 457.9 L661.9 446.7 L685.7 438.3 L709.5 430.9 L733.4 418.2 L757.2 407.7 L781.1 392.5 L805.0 380.1 L828.8 367.4 L852.6 356.2 L876.5 342.0 L900.4 335.1 L924.2 321.5 L948.1 311.2 L971.9 295.6 L995.8 285.7 L1019.6 272.2"/>
<path d="M232.5 601.3 L256.4 592.4 L280.2 589.6 L304.1 581.7 L327.9 573.9 L351.8 569.2 L375.6 557.0 L399.5 550.9 L423.4 542.3 L447.2 531.8 L471.0 523.0 L494.9 516.8 L518.8 502.7 L542.6 498.1 L566.5 487.5 L590.3 476.4 L614.1 469.2 L638.0 458.7 L661.9 447.4 L685.7 437.7 L709.5 428.0 L733.4 416.8 L757.2 409.6 L781.1 397.6 L805.0 382.4 L828.8 369.7 L852.6 361.3 L876.5 348.1 L900.4 338.4 L924.2 320.4 L948.1 308.5 L971.9 294.9 L995.8 286.4 L1019.6 274.6"/>
<path d="M232.5 601.9 L256.4 591.9 L280.2 587.5 L304.1 580.8 L327.9 569.7 L351.8 570.5 L375.6 560.1 L399.5 554.5 L423.4 545.3 L447.2 534.9 L471.0 526.9 L494.9 518.9 L518.8 508.2 L542.6 500.9 L566.5 489.1 L590.3 480.9 L614.1 473.1 L638.0 464.7 L661.9 450.9 L685.7 439.8 L709.5 430.3 L733.4 419.1 L757.2 411.9 L781.1 399.2 L805.0 389.6 L828.8 374.0 L852.6 364.7 L876.5 348.8 L900.4 336.7 L924.2 322.3 L948.1 313.6 L971.9 300.4 L995.8 290.8 L1019.6 275.4"/>
<path d="M232.5 602.9 L256.4 596.4 L280.2 591.4 L304.1 582.2 L327.9 573.1 L351.8 569.9 L375.6 556.0 L399.5 553.9 L423.4 545.7 L447.2 535.3 L471.0 527.8 L494.9 519.7 L518.8 507.1 L542.6 502.7 L566.5 490.8 L590.3 483.0 L614.1 472.6 L638.0 465.5 L661.9 452.9 L685.7 441.4 L709.5 433.9 L733.4 423.3 L757.2 415.6 L781.1 399.5 L805.0 391.9 L828.8 374.6 L852.6 364.7 L876.5 349.2 L900.4 338.4 L924.2 327.2 L948.1 314.7 L971.9 301.1 L995.8 290.6 L1019.6 277.6"/>
<path d="M232.5 603.3 L256.4 594.3 L280.2 591.2 L304.1 584.0 L327.9 572.8 L351.8 571.5 L375.6 557.0 L399.5 553.5 L423.4 545.7 L447.2 535.2 L471.0 529.7 L494.9 522.0 L518.8 509.4 L542.6 503.1 L566.5 491.3 L590.3 483.0 L614.1 475.3 L638.0 467.0 L661.9 454.0 L685.7 443.8 L709.5 438.3 L733.4 425.8 L757.2 414.4 L781.1 399.4 L805.0 388.5 L828.8 374.0 L852.6 365.4 L876.5 352.3 L900.4 340.3 L924.2 327.8 L948.1 320.0 L971.9 308.0 L995.8 295.5 L1019.6 280.8"/>
<path d="M232.5 604.4 L256.4 597.5 L280.2 592.5 L304.1 582.6 L327.9 572.1 L351.8 573.3 L375.6 562.5 L399.5 556.9 L423.4 547.6 L447.2 536.7 L471.0 530.1 L494.9 525.1 L518.8 512.4 L542.6 507.2 L566.5 494.5 L590.3 486.0 L614.1 478.7 L638.0 470.2 L661.9 458.7 L685.7 445.1 L709.5 433.5 L733.4 421.2 L757.2 414.9 L781.1 400.7 L805.0 392.3 L828.8 380.0 L852.6 368.5 L876.5 354.5 L900.4 344.7 L924.2 330.1 L948.1 322.9 L971.9 309.1 L995.8 296.6 L1019.6 282.4"/>
<path d="M232.5 604.6 L256.4 597.9 L280.2 592.0 L304.1 583.8 L327.9 574.5 L351.8 572.0 L375.6 562.4 L399.5 559.4 L423.4 549.7 L447.2 539.5 L471.0 531.5 L494.9 523.7 L518.8 512.8 L542.6 504.8 L566.5 491.5 L590.3 483.6 L614.1 477.7 L638.0 470.4 L661.9 458.6 L685.7 446.2 L709.5 434.5 L733.4 422.7 L757.2 414.8 L781.1 402.2 L805.0 394.3 L828.8 379.0 L852.6 370.6 L876.5 356.6 L900.4 347.0 L924.2 334.8 L948.1 325.4 L971.9 309.8 L995.8 296.6 L1019.6 280.9"/>
<path d="M232.5 605.4 L256.4 596.3 L280.2 593.8 L304.1 583.9 L327.9 573.7 L351.8 572.7 L375.6 560.9 L399.5 558.4 L423.4 551.6 L447.2 543.1 L471.0 534.8 L494.9 525.7 L518.8 512.6 L542.6 507.5 L566.5 493.4 L590.3 484.2 L614.1 477.8 L638.0 469.2 L661.9 458.4 L685.7 444.3 L709.5 436.5 L733.4 424.5 L757.2 417.1 L781.1 405.8 L805.0 396.7 L828.8 381.7 L852.6 371.2 L876.5 358.2 L900.4 347.5 L924.2 335.5 L948.1 326.6 L971.9 308.3 L995.8 297.7 L1019.6 284.1"/>
<path d="M232.5 606.1 L256.4 600.0 L280.2 595.5 L304.1 586.3 L327.9 574.7 L351.8 573.7 L375.6 566.0 L399.5 562.9 L423.4 553.4 L447.2 543.6 L471.0 532.5 L494.9 526.0 L518.8 516.0 L542.6 511.6 L566.5 498.2 L590.3 489.2 L614.1 479.7 L638.0 470.3 L661.9 459.1 L685.7 446.8 L709.5 439.5 L733.4 426.8 L757.2 418.3 L781.1 404.8 L805.0 393.8 L828.8 381.1 L852.6 371.3 L876.5 356.8 L900.4 351.0 L924.2 335.8 L948.1 325.4 L971.9 310.8 L995.8 298.1 L1019.6 286.6"/>
<path d="M232.5 605.8 L256.4 598.9 L280.2 594.9 L304.1 588.1 L327.9 578.4 L351.8 577.0 L375.6 565.2 L399.5 558.1 L423.4 549.8 L447.2 539.0 L471.0 532.1 L494.9 523.4 L518.8 511.8 L542.6 509.3 L566.5 495.9 L590.3 486.6 L614.1 476.1 L638.0 467.4 L661.9 457.7 L685.7 446.5 L709.5 439.1 L733.4 429.0 L757.2 420.0 L781.1 404.4 L805.0 395.6 L828.8 381.8 L852.6 373.2 L876.5 361.4 L900.4 351.9 L924.2 337.5 L948.1 330.5 L971.9 313.8 L995.8 300.7 L1019.6 288.5"/>
<path d="M232.5 607.1 L256.4 598.1 L280.2 593.4 L304.1 587.9 L327.9 576.9 L351.8 575.9 L375.6 565.1 L399.5 560.3 L423.4 551.9 L447.2 543.1 L471.0 535.9 L494.9 529.0 L518.8 516.9 L542.6 510.0 L566.5 494.4 L590.3 487.5 L614.1 481.3 L638.0 473.5 L661.9 462.1 L685.7 449.3 L709.5 441.1 L733.4 429.7 L757.2 419.6 L781.1 407.1 L805.0 398.9 L828.8 383.0 L852.6 376.4 L876.5 359.5 L900.4 349.1 L924.2 338.5 L948.1 328.2 L971.9 314.4 L995.8 304.1 L1019.6 288.6"/>
<path d="M232.5 608.1 L256.4 599.7 L280.2 596.5 L304.1 591.4 L327.9 577.7 L351.8 575.9 L375.6 566.6 L399.5 560.0 L423.4 552.8 L447.2 544.8 L471.0 537.4 L494.9 530.7 L518.8 518.7 L542.6 511.9 L566.5 499.1 L590.3 490.1 L614.1 481.7 L638.0 476.0 L661.9 462.5 L685.7 450.5 L709.5 442.7 L733.4 430.4 L757.2 424.4 L781.1 409.3 L805.0 400.6 L828.8 385.4 L852.6 376.4 L876.5 360.9 L900.4 353.5 L924.2 340.0 L948.1 331.6 L971.9 319.0 L995.8 308.2 L1019.6 295.6"/>
<path d="M232.5 608.0 L256.4 598.9 L280.2 594.7 L304.1 586.5 L327.9 575.7 L351.8 576.1 L375.6 566.4 L399.5 562.3 L423.4 555.7 L447.2 544.8 L471.0 536.1 L494.9 529.0 L518.8 517.1 L542.6 511.1 L566.5 497.3 L590.3 490.4 L614.1 483.1 L638.0 476.4 L661.9 462.9 L685.7 451.7 L709.5 443.1 L733.4 434.5 L757.2 426.8 L781.1 410.9 L805.0 402.6 L828.8 386.3 L852.6 380.5 L876.5 365.5 L900.4 356.1 L924.2 342.9 L948.1 333.5 L971.9 319.3 L995.8 309.9 L1019.6 295.9"/>
<path d="M232.5 608.8 L256.4 602.1 L280.2 598.1 L304.1 593.3 L327.9 581.7 L351.8 579.6 L375.6 570.7 L399.5 566.1 L423.4 557.1 L447.2 547.6 L471.0 538.8 L494.9 530.3 L518.8 519.8 L542.6 515.4 L566.5 502.6 L590.3 490.3 L614.1 482.3 L638.0 474.8 L661.9 463.3 L685.7 454.0 L709.5 445.6 L733.4 435.0 L757.2 425.4 L781.1 411.4 L805.0 404.8 L828.8 390.5 L852.6 384.2 L876.5 370.3 L900.4 361.5 L924.2 346.3 L948.1 336.0 L971.9 320.9 L995.8 306.9 L1019.6 295.3"/>
<path d="M232.5 609.6 L256.4 600.4 L280.2 596.9 L304.1 590.2 L327.9 580.6 L351.8 580.6 L375.6 570.5 L399.5 566.0 L423.4 556.7 L447.2 544.6 L471.0 535.8 L494.9 528.0 L518.8 516.4 L542.6 514.2 L566.5 500.0 L590.3 492.7 L614.1 485.8 L638.0 477.9 L661.9 465.3 L685.7 453.3 L709.5 445.1 L733.4 434.1 L757.2 425.3 L781.1 411.0 L805.0 403.5 L828.8 388.3 L852.6 379.1 L876.5 365.4 L900.4 356.4 L924.2 341.3 L948.1 334.5 L971.9 321.6 L995.8 310.0 L1019.6 297.3"/>
<path d="M232.5 609.8 L256.4 601.9 L280.2 601.7 L304.1 593.5 L327.9 581.7 L351.8 582.4 L375.6 568.6 L399.5 563.9 L423.4 557.6 L447.2 548.7 L471.0 540.0 L494.9 532.2 L518.8 521.4 L542.6 517.6 L566.5 503.2 L590.3 493.9 L614.1 487.8 L638.0 478.5 L661.9 466.5 L685.7 456.3 L709.5 446.6 L733.4 433.4 L757.2 427.2 L781.1 413.4 L805.0 404.5 L828.8 389.1 L852.6 381.5 L876.5 367.1 L900.4 359.7 L924.2 347.0 L948.1 338.8 L971.9 323.5 L995.8 313.0 L1019.6 299.9"/>
<path d="M232.5 610.9 L256.4 605.7 L280.2 603.1 L304.1 595.4 L327.9 584.4 L351.8 584.2 L375.6 572.3 L399.5 566.6 L423.4 558.9 L447.2 548.6 L471.0 540.8 L494.9 532.4 L518.8 521.1 L542.6 515.8 L566.5 501.2 L590.3 491.8 L614.1 486.7 L638.0 481.6 L661.9 468.1 L685.7 455.8 L709.5 447.5 L733.4 436.7 L757.2 429.5 L781.1 414.0 L805.0 407.2 L828.8 390.9 L852.6 384.0 L876.5 368.8 L900.4 361.3 L924.2 346.3 L948.1 338.1 L971.9 322.9 L995.8 311.9 L1019.6 299.7"/>
<path d="M232.5 611.3 L256.4 604.1 L280.2 602.7 L304.1 595.4 L327.9 581.8 L351.8 580.0 L375.6 568.0 L399.5 563.2 L423.4 557.6 L447.2 548.9 L471.0 541.8 L494.9 536.2 L518.8 524.1 L542.6 518.9 L566.5 503.1 L590.3 494.4 L614.1 487.9 L638.0 481.1 L661.9 469.2 L685.7 459.1 L709.5 452.4 L733.4 438.7 L757.2 432.9 L781.1 416.8 L805.0 409.3 L828.8 393.0 L852.6 385.3 L876.5 370.6 L900.4 364.6 L924.2 350.3 L948.1 342.4 L971.9 327.0 L995.8 313.5 L1019.6 300.4"/>
<path d="M232.5 611.5 L256.4 601.3 L280.2 600.2 L304.1 593.5 L327.9 581.9 L351.8 582.2 L375.6 572.0 L399.5 567.0 L423.4 558.2 L447.2 551.5 L471.0 543.1 L494.9 536.7 L518.8 523.4 L542.6 516.0 L566.5 503.7 L590.3 493.5 L614.1 488.1 L638.0 483.4 L661.9 471.6 L685.7 460.9 L709.5 453.3 L733.4 442.2 L757.2 434.0 L781.1 418.7 L805.0 411.1 L828.8 394.8 L852.6 387.9 L876.5 370.7 L900.4 363.3 L924.2 350.3 L948.1 341.8 L971.9 325.2 L995.8 313.4 L1019.6 303.1"/>
<path d="M232.5 612.2 L256.4 603.8 L280.2 601.4 L304.1 593.0 L327.9 580.1 L351.8 580.5 L375.6 570.1 L399.5 567.1 L423.4 558.3 L447.2 548.3 L471.0 540.5 L494.9 533.5 L518.8 525.0 L542.6 521.0 L566.5 504.6 L590.3 496.4 L614.1 489.8 L638.0 483.2 L661.9 472.8 L685.7 461.2 L709.5 455.0 L733.4 445.2 L757.2 437.4 L781.1 420.5 L805.0 411.9 L828.8 395.6 L852.6 387.7 L876.5 371.6 L900.4 364.3 L924.2 350.9 L948.1 344.9 L971.9 329.5 L995.8 317.8 L1019.6 305.0"/>
<path d="M232.5 613.0 L256.4 606.4 L280.2 603.3 L304.1 596.5 L327.9 583.9 L351.8 585.6 L375.6 574.7 L399.5 570.2 L423.4 563.2 L447.2 553.3 L471.0 544.8 L494.9 537.2 L518.8 524.5 L542.6 519.1 L566.5 504.2 L590.3 495.5 L614.1 489.9 L638.0 483.7 L661.9 471.3 L685.7 461.0 L709.5 454.9 L733.4 443.6 L757.2 439.1 L781.1 421.1 L805.0 414.0 L828.8 398.6 L852.6 391.4 L876.5 377.8 L900.4 370.0 L924.2 352.8 L948.1 346.4 L971.9 332.8 L995.8 320.3 L1019.6 306.2"/>
<path d="M232.5 613.4 L256.4 606.9 L280.2 603.3 L304.1 596.0 L327.9 584.1 L351.8 582.0 L375.6 572.9 L399.5 569.0 L423.4 561.2 L447.2 553.3 L471.0 544.0 L494.9 536.3 L518.8 524.3 L542.6 519.3 L566.5 503.2 L590.3 495.1 L614.1 489.2 L638.0 482.8 L661.9 474.7 L685.7 461.9 L709.5 453.8 L733.4 442.8 L757.2 435.1 L781.1 418.8 L805.0 413.3 L828.8 397.8 L852.6 391.9 L876.5 377.0 L900.4 368.5 L924.2 353.9 L948.1 346.1 L971.9 330.4 L995.8 319.8 L1019.6 304.2"/>
</g>
<path fill="none" stroke="#262626" stroke-width="1.8" d="M209.4 39.4h8.6M209.4 230.9h8.6M209.4 422.3h8.6M1001.7 39.4h-8.6M1001.7 230.9h-8.6M1001.7 422.3h-8.6M497.5 613.7v-8.6M785.6 613.7v-8.6M497.5 0.7v8.6M785.6 0.7v8.6"/>
<g clip-path="url(#ax)" fill="none" stroke="#ff0000">
<path d="M258.8 568.5 L424.5 471.5" stroke-width="5" stroke-dasharray="15 6"/>
<path d="M376 571 L663 468" stroke-width="5" stroke-dasharray="15 6"/>
<path d="M233.4 254.9 L256.4 207.3 L280.4 146.0 L304.1 96.2 L328.0 37.5 L351.9 -22.0" stroke-width="2.8"/>
</g>
<g fill="none" stroke="#ff0000" stroke-width="2.8">
<rect x="248.3" y="562.2" width="16.2" height="16.2"/>
<rect x="272.1" y="548.1" width="16.2" height="16.2"/>
<rect x="296.0" y="534.6" width="16.2" height="16.2"/>
<rect x="319.8" y="520.8" width="16.2" height="16.2"/>
<rect x="343.7" y="507.2" width="16.2" height="16.2"/>
<rect x="367.5" y="492.9" width="16.2" height="16.2"/>
<rect x="391.4" y="478.0" width="16.2" height="16.2"/>
<rect x="415.2" y="463.2" width="16.2" height="16.2"/>
<rect x="439.1" y="447.3" width="16.2" height="16.2"/>
<rect x="462.9" y="432.3" width="16.2" height="16.2"/>
<rect x="486.8" y="415.8" width="16.2" height="16.2"/>
<rect x="510.6" y="400.6" width="16.2" height="16.2"/>
<rect x="534.5" y="384.9" width="16.2" height="16.2"/>
<rect x="558.4" y="369.3" width="16.2" height="16.2"/>
<rect x="582.2" y="352.9" width="16.2" height="16.2"/>
<rect x="606.0" y="337.0" width="16.2" height="16.2"/>
<rect x="629.9" y="321.4" width="16.2" height="16.2"/>
<rect x="653.8" y="306.4" width="16.2" height="16.2"/>
<rect x="677.6" y="291.3" width="16.2" height="16.2"/>
<rect x="701.4" y="276.8" width="16.2" height="16.2"/>
<rect x="725.3" y="262.2" width="16.2" height="16.2"/>
<rect x="749.1" y="248.2" width="16.2" height="16.2"/>
<rect x="773.0" y="234.5" width="16.2" height="16.2"/>
<rect x="796.9" y="221.6" width="16.2" height="16.2"/>
<rect x="820.7" y="208.1" width="16.2" height="16.2"/>
<rect x="844.5" y="196.1" width="16.2" height="16.2"/>
<rect x="868.4" y="183.9" width="16.2" height="16.2"/>
<rect x="892.2" y="171.6" width="16.2" height="16.2"/>
<rect x="916.1" y="160.6" width="16.2" height="16.2"/>
<rect x="940.0" y="148.6" width="16.2" height="16.2"/>
<rect x="963.8" y="138.3" width="16.2" height="16.2"/>
<rect x="987.6" y="127.7" width="16.2" height="16.2"/>
<circle cx="256.4" cy="600.8" r="10.3"/>
<circle cx="280.2" cy="597.7" r="10.3"/>
<circle cx="304.1" cy="590.3" r="10.3"/>
<circle cx="327.9" cy="578.6" r="10.3"/>
<circle cx="351.8" cy="578.9" r="10.3"/>
<circle cx="375.6" cy="567.5" r="10.3"/>
<circle cx="399.5" cy="563.3" r="10.3"/>
<circle cx="423.4" cy="555.3" r="10.3"/>
<circle cx="447.2" cy="544.6" r="10.3"/>
<circle cx="471.0" cy="536.6" r="10.3"/>
<circle cx="494.9" cy="530.1" r="10.3"/>
<circle cx="518.8" cy="518.4" r="10.3"/>
<circle cx="542.6" cy="514.9" r="10.3"/>
<circle cx="566.5" cy="499.6" r="10.3"/>
<circle cx="590.3" cy="491.0" r="10.3"/>
<circle cx="614.1" cy="484.4" r="10.3"/>
<circle cx="638.0" cy="476.9" r="10.3"/>
<circle cx="661.9" cy="465.5" r="10.3"/>
<circle cx="685.7" cy="454.3" r="10.3"/>
<circle cx="709.5" cy="446.8" r="10.3"/>
<circle cx="733.4" cy="435.5" r="10.3"/>
<circle cx="757.2" cy="428.2" r="10.3"/>
<circle cx="781.1" cy="412.5" r="10.3"/>
<circle cx="805.0" cy="405.5" r="10.3"/>
<circle cx="828.8" cy="389.7" r="10.3"/>
<circle cx="852.6" cy="382.6" r="10.3"/>
<circle cx="876.5" cy="367.6" r="10.3"/>
<circle cx="900.4" cy="359.7" r="10.3"/>
<circle cx="924.2" cy="344.7" r="10.3"/>
<circle cx="948.1" cy="337.2" r="10.3"/>
<circle cx="971.9" cy="322.2" r="10.3"/>
<circle cx="995.8" cy="311.0" r="10.3"/>
</g>
<!-- text boxes -->
<g fill="#fff" stroke="#000" stroke-width="1.9">
<rect x="385.1" y="22.8" width="440.1" height="141.9"/>
<rect x="86.8" y="296.4" width="375.5" height="99.8"/>
<rect x="635.3" y="528" width="389.3" height="99.4"/>
</g>
<path d="M386.5 64.4 L335.9 64.4" fill="none" stroke="#000" stroke-width="1.5"/><path d="M317.3 64.4 L345.6 54.0 L337.9 64.4 L345.6 74.8 Z" fill="#000"/><path d="M462.3 343.4 L536.2 384.2" fill="none" stroke="#000" stroke-width="1.5"/><path d="M552.5 393.2 L522.7 388.6 L534.5 383.2 L532.8 370.4 Z" fill="#000"/><path d="M634.7 569.6 L567.7 535.9" fill="none" stroke="#000" stroke-width="1.5"/><path d="M551.1 527.5 L581.1 530.9 L569.5 536.8 L571.7 549.5 Z" fill="#000"/>
<g class="tx">
<text x="397.8" y="55.2" textLength="342.2" lengthAdjust="spacingAndGlyphs">Profile extracted from</text>
<text x="397.4" y="97.1" textLength="379.2" lengthAdjust="spacingAndGlyphs">edge of laser micrometer</text>
<text x="397.8" y="145.5" style="font-size:45px" textLength="30" lengthAdjust="spacingAndGlyphs">≈</text>
<text x="435.6" y="139.1" textLength="352.4" lengthAdjust="spacingAndGlyphs">0.5mm from midheight</text>
<text x="100.2" y="328.9" textLength="219.1" lengthAdjust="spacingAndGlyphs">Averaged over</text>
<text x="100" y="371" textLength="327.7" lengthAdjust="spacingAndGlyphs">micrometer thickness</text>
<text x="648.6" y="561.1" textLength="340.7" lengthAdjust="spacingAndGlyphs">Profile extracted from</text>
<text x="648" y="603.3" textLength="289.9" lengthAdjust="spacingAndGlyphs">filament midheight</text>
</g>
<!-- tick & axis labels -->
<g fill="#262626">
<text transform="translate(105.62,251.22) scale(0.5450,0.5780)" style="font-family:&quot;Liberation Sans&quot;,Arial,sans-serif" font-size="100">0.</text>
<text transform="translate(149.80,251.80) scale(0.4000,0.5780)" style="font-family:&quot;Liberation Sans&quot;,Arial,sans-serif" font-size="100">1</text>
<text transform="translate(68.82,59.72) scale(0.5462,0.5789)" style="font-family:&quot;Liberation Sans&quot;,Arial,sans-serif" font-size="100">0.15</text>
<text transform="translate(68.70,442.13) scale(0.5500,0.5662)" style="font-family:&quot;Liberation Sans&quot;,Arial,sans-serif" font-size="100">0.05</text>
<text transform="translate(156.64,634.03) scale(0.5281,0.5718)" style="font-family:&quot;Liberation Sans&quot;,Arial,sans-serif" font-size="100">0</text>
<text transform="translate(191.03,683.93) scale(0.5417,0.5690)" style="font-family:&quot;Liberation Sans&quot;,Arial,sans-serif" font-size="100">0</text>
<text transform="translate(478.02,682.90) scale(0.5761,0.5600)" style="font-family:&quot;Liberation Sans&quot;,Arial,sans-serif" font-size="100">2</text>
<text transform="translate(767.64,683.88) scale(0.5314,0.5794)" style="font-family:&quot;Liberation Sans&quot;,Arial,sans-serif" font-size="100">4</text>
<text transform="translate(848.74,772.52) scale(0.6091,0.6023)" style="font-family:&quot;Liberation Sans&quot;,Arial,sans-serif" font-size="100" stroke="#fff" stroke-width="3.4">×</text>
<text transform="translate(888.42,767.72) scale(0.5354,0.5789)" style="font-family:&quot;Liberation Sans&quot;,Arial,sans-serif" font-size="100">10</text>
<text transform="translate(959.17,740.55) scale(0.4313,0.4535)" style="font-family:&quot;Liberation Sans&quot;,Arial,sans-serif" font-size="100">-3</text>
<text transform="translate(541.29,745.09) scale(0.6769,0.6105)" style="font-family:&quot;Liberation Serif&quot;,&quot;Times New Roman&quot;,serif;font-style:italic" font-size="100">t</text>
<text transform="translate(562.67,753.52) scale(0.4100,0.3750)" style="font-family:&quot;Liberation Serif&quot;,&quot;Times New Roman&quot;,serif;font-style:italic" font-size="100">c</text>
<text transform="translate(594.93,755.30) scale(0.7149,0.7149)" style="font-family:&quot;Liberation Serif&quot;,&quot;Times New Roman&quot;,serif" font-size="100">−</text>
<text transform="translate(646.65,745.09) scale(0.6615,0.6105)" style="font-family:&quot;Liberation Serif&quot;,&quot;Times New Roman&quot;,serif;font-style:italic" font-size="100">t</text>
<text transform="translate(40.60,386.50) rotate(-90) scale(0.6644,0.5692)" style="font-family:&quot;Liberation Serif&quot;,&quot;Times New Roman&quot;,serif;font-style:italic" font-size="100">R</text>
<text transform="translate(45.49,342.72) rotate(-90) scale(0.3174,0.6470)" style="font-family:&quot;Liberation Serif&quot;,&quot;Times New Roman&quot;,serif" font-size="100">[</text>
<text transform="translate(41.00,331.16) rotate(-90) scale(0.5783,0.5085)" style="font-family:&quot;Liberation Serif&quot;,&quot;Times New Roman&quot;,serif" font-size="100">mm</text>
<text transform="translate(45.49,241.24) rotate(-90) scale(0.3091,0.6470)" style="font-family:&quot;Liberation Serif&quot;,&quot;Times New Roman&quot;,serif" font-size="100">]</text>
</g>
</svg>
</body></html>
